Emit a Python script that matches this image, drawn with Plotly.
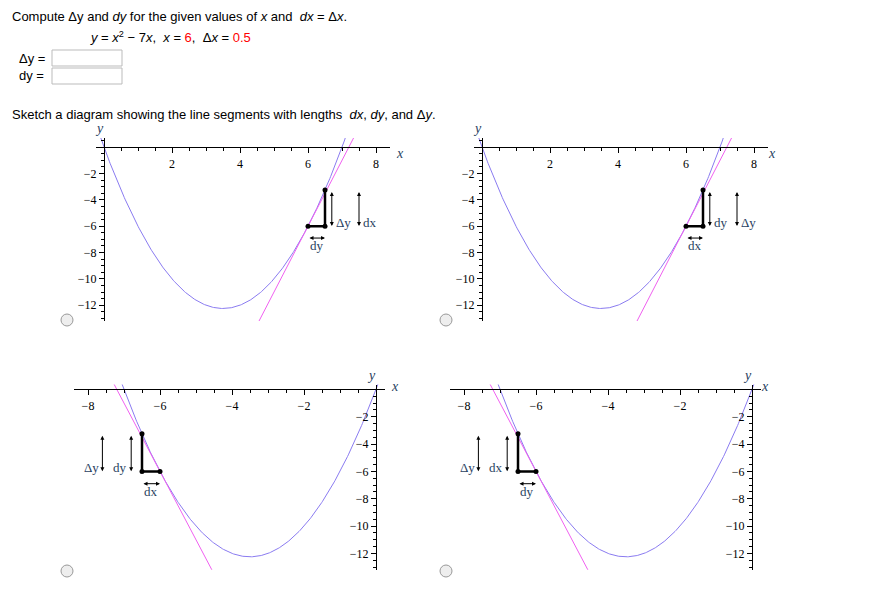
import numpy as np
import plotly.graph_objects as go

W, H = 869, 589
OFF = 8  # page body margin
x0_top, dx_val = 6, 0.5
panel_sign = [1, 1, -1, -1]
vert_labels = [["Δy", "dx"], ["dy", "Δy"], ["Δy", "dy"], ["Δy", "dx"]]
horiz_labels = ["dy", "dx", "dx", "dy"]
x_ticks_pos = [2, 4, 6, 8]
x_ticks_neg = [-8, -6, -4, -2]
y_ticks = [-2, -4, -6, -8, -10, -12]
boxes = [(95.5, 389.6, 138, 321), (473.5, 767.6, 138, 321),
         (73.6, 385, 384.6, 569.8), (449.6, 761, 384.6, 569.8)]
yrs = [[-13.2, 0.7], [-13.2, 0.7], [-13.2, 0.35], [-13.2, 0.35]]
radios = [(67, 320), (446, 320), (67, 571), (446, 571)]

fig = go.Figure()
serif = "Liberation Serif"
ann = []
shapes = []
layout = {}
for i, s in enumerate(panel_sign):
    n = "" if i == 0 else str(i + 1)
    yr = yrs[i]
    xr = [-0.25, 8.4] if s == 1 else [-8.4, 0.25]
    l, r, t, b = [v - OFF for v in boxes[i]]
    xd = [l / W, r / W]
    yd = [1 - b / H, 1 - t / H]
    px0 = xd[0] + (0 - xr[0]) / (xr[1] - xr[0]) * (xd[1] - xd[0])
    py0 = yd[0] + (0 - yr[0]) / (yr[1] - yr[0]) * (yd[1] - yd[0])
    xs = np.linspace(min(xr), max(xr), 400)
    ys = xs**2 - 7 * s * xs
    xa, ya = "x" + n, "y" + n
    fig.add_trace(go.Scatter(x=xs, y=ys, mode="lines", line=dict(color="#8a7bf0", width=1),
                             xaxis=xa, yaxis=ya, hoverinfo="skip"))
    a = s * x0_top
    fa = a**2 - 7 * s * a
    slope = 2 * a - 7 * s
    tx = np.array(xr)
    fig.add_trace(go.Scatter(x=tx, y=fa + slope * (tx - a), mode="lines",
                             line=dict(color="#f060f0", width=1), xaxis=xa, yaxis=ya, hoverinfo="skip"))
    a2 = a + s * dx_val
    fa2 = a2**2 - 7 * s * a2
    fig.add_trace(go.Scatter(x=[a, a2, a2], y=[fa, fa, fa2], mode="lines+markers",
                             line=dict(color="black", width=2.5), marker=dict(size=5, color="black"),
                             xaxis=xa, yaxis=ya, hoverinfo="skip"))
    tick = dict(color="black", tickfont=dict(family=serif, size=12, color="black"),
                showgrid=False, zeroline=False, showline=True, linecolor="black",
                ticks="outside", ticklen=5, tickcolor="black",
                minor=dict(ticks="outside", ticklen=3, dtick=0.5, tickcolor="black"))
    xt = x_ticks_pos if s == 1 else x_ticks_neg
    layout["xaxis" + n] = dict(domain=xd, range=xr, anchor="free", position=py0,
                               tickvals=xt, ticktext=[str(v).replace("-", "−") for v in xt], **tick)
    layout["yaxis" + n] = dict(domain=yd, range=yr, anchor="free", position=px0, side="left",
                               tickvals=y_ticks, ticktext=[str(v).replace("-", "−") for v in y_ticks],
                               **tick)
    ann.append(dict(x=xd[1] + 0.012, y=py0 + 0.005, xref="paper", yref="paper", text="<i>x</i>",
                    showarrow=False, font=dict(family=serif, size=14)))
    ann.append(dict(x=px0 + 0.002, y=yd[1], xref="paper", yref="paper", text="<i>y</i>",
                    xanchor="right", yanchor="bottom", showarrow=False, font=dict(family=serif, size=14)))
    if s == 1:
        vx = [a2 + 0.2, a2 + 1.0]
        vanch = "left"
        vlx = [v + 0.05 for v in vx]
    else:
        vx = [a - 1.6, a - 0.8]
        vanch = "right"
        vlx = [v - 0.05 for v in vx]
    for k in range(2):
        ann.append(dict(x=vx[k], y=-3.4, ax=vx[k], ay=-6.1, xref=xa, yref=ya, axref=xa, ayref=ya,
                        text="", showarrow=True, arrowhead=2, arrowsize=0.8, arrowwidth=1,
                        arrowside="end+start", arrowcolor="black"))
        ann.append(dict(x=vlx[k], y=-5.7, xref=xa, yref=ya, text=vert_labels[i][k], showarrow=False,
                        xanchor=vanch, font=dict(family=serif, size=13)))
    hx = [min(a, a2), max(a, a2)]
    ann.append(dict(x=hx[1], y=-6.9, ax=hx[0], ay=-6.9, xref=xa, yref=ya, axref=xa, ayref=ya,
                    text="", showarrow=True, arrowhead=2, arrowsize=0.8, arrowwidth=1,
                    arrowside="end+start", arrowcolor="black"))
    ann.append(dict(x=(hx[0] + hx[1]) / 2, y=-7.5, xref=xa, yref=ya, text=horiz_labels[i],
                    showarrow=False, font=dict(family=serif, size=13)))
    cx, cy = radios[i]
    cx, cy = cx - OFF, cy - OFF
    shapes.append(dict(type="circle", xref="paper", yref="paper", x0=(cx - 6) / W, x1=(cx + 6) / W,
                       y0=1 - (cy + 6) / H, y1=1 - (cy - 6) / H, line=dict(color="#999", width=1),
                       fillcolor="#eeeeee"))

sans = "Liberation Sans"
def txt(x, y, t, size=13):
    ann.append(dict(x=(x - OFF) / W, y=min(1 - (y - OFF) / H, 1 - 8 / H), xref="paper", yref="paper",
                    text=t, showarrow=False, xanchor="left", yanchor="middle",
                    font=dict(family=sans, size=size, color="black")))
txt(10, 11, "Compute Δy and <i>dy</i> for the given values of <i>x</i> and  <i>dx</i> = Δ<i>x</i>.")
txt(88, 37, "<i>y</i> = <i>x</i><sup>2</sup> − 7<i>x</i>,  <i>x</i> = <span style='color:red'>6</span>,  Δ<i>x</i> = <span style='color:red'>0.5</span>")
txt(17, 58, "Δy =")
txt(17, 76, "dy =")
txt(10, 114, "Sketch a diagram showing the line segments with lengths  <i>dx</i>, <i>dy</i>, and Δ<i>y</i>.")
for y0 in (50, 68):
    shapes.append(dict(type="rect", xref="paper", yref="paper", x0=(52 - OFF) / W, x1=(122 - OFF) / W,
                       y0=1 - (y0 + 16 - OFF) / H, y1=1 - (y0 - OFF) / H, line=dict(color="#bbb", width=1)))

fig.update_layout(width=W, height=H, margin=dict(l=0, r=0, t=0, b=0), showlegend=False,
                  plot_bgcolor="white", paper_bgcolor="white", annotations=ann, shapes=shapes, **layout)
fig.write_html("out.html")
